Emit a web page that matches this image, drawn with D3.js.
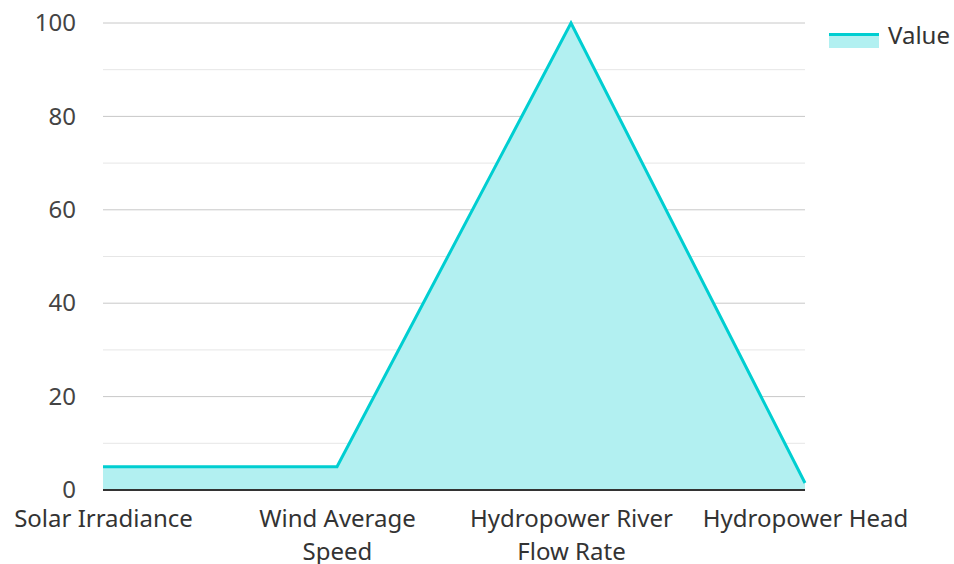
<!DOCTYPE html>
<html>
<head>
<meta charset="utf-8">
<script src="https://cdn.jsdelivr.net/npm/d3@7"></script>
<style>
  body { margin: 0; background: #fff; }
  text { font-family: "Noto Sans", sans-serif; fill: #333; }
</style>
</head>
<body>
<div id="root"></div>
<script>
var categories = ["Solar Irradiance", "Wind Average Speed", "Hydropower River Flow Rate", "Hydropower Head"];
var values = [5, 5, 100, 1.5];
var seriesName = "Value";
var majorTicks = [0, 20, 40, 60, 80, 100];
var minorTicks = [10, 30, 50, 70, 90];

var svgWidth = 954, svgHeight = 564;
var margin = {top: 23, right: 149, bottom: 74, left: 103};
var width = svgWidth - margin.left - margin.right,
    height = svgHeight - margin.top - margin.bottom;

var svg = d3.select("#root").append("svg")
    .attr("width", svgWidth)
    .attr("height", svgHeight);

var g = svg.append("g")
    .attr("transform", "translate(" + margin.left + "," + margin.top + ")");

var x = d3.scalePoint().domain(categories).range([0, width]);
var y = d3.scaleLinear().domain([0, 100]).range([height, 0]);

var lineColor = "#00ced1";
var fillColor = "#b2f0f1";

// grid
g.append("g").selectAll("line").data(minorTicks).enter().append("line")
    .attr("x1", 0).attr("x2", width)
    .attr("y1", function (d) { return y(d); })
    .attr("y2", function (d) { return y(d); })
    .attr("stroke", "#e6e6e6").attr("stroke-width", 1);

g.append("g").selectAll("line").data(majorTicks.slice(1)).enter().append("line")
    .attr("x1", 0).attr("x2", width)
    .attr("y1", function (d) { return y(d); })
    .attr("y2", function (d) { return y(d); })
    .attr("stroke", "#c8c8c8").attr("stroke-width", 1);

// area + line
var data = categories.map(function (c, i) { return {cat: c, value: values[i]}; });

g.append("path").datum(data)
    .attr("fill", fillColor)
    .attr("d", d3.area()
        .x(function (d) { return x(d.cat); })
        .y0(y(0))
        .y1(function (d) { return y(d.value); }));

g.append("path").datum(data)
    .attr("fill", "none")
    .attr("stroke", lineColor)
    .attr("stroke-width", 3)
    .attr("stroke-linejoin", "miter")
    .attr("d", d3.line()
        .x(function (d) { return x(d.cat); })
        .y(function (d) { return y(d.value); }));

// baseline
g.append("line")
    .attr("x1", 0).attr("x2", width)
    .attr("y1", y(0)).attr("y2", y(0))
    .attr("stroke", "#333").attr("stroke-width", 2);

// y axis labels
var yAxis = g.append("g")
    .call(d3.axisLeft(y).tickValues(majorTicks).tickSize(0).tickPadding(27));
yAxis.select(".domain").remove();
yAxis.selectAll("text")
    .attr("font-size", 24)
    .style("fill", "#444");

// x axis labels
var xAxis = g.append("g")
    .attr("transform", "translate(0," + height + ")")
    .call(d3.axisBottom(x).tickSize(0).tickPadding(0));
xAxis.select(".domain").remove();
xAxis.selectAll("text")
    .attr("font-size", 24)
    .call(wrap, 220);

function wrap(texts, maxW) {
    texts.each(function () {
        var text = d3.select(this);
        var words = text.text().split(/\s+/);
        text.text(null);
        var lines = [], line = [];
        var tmp = text.append("tspan");
        words.forEach(function (w) {
            line.push(w);
            tmp.text(line.join(" "));
            if (tmp.node().getComputedTextLength() > maxW && line.length > 1) {
                line.pop();
                lines.push(line.join(" "));
                line = [w];
            }
        });
        lines.push(line.join(" "));
        tmp.remove();
        text.attr("y", 0).attr("dy", null);
        lines.forEach(function (l, i) {
            text.append("tspan")
                .attr("x", 0)
                .attr("y", 37 + i * 33)
                .text(l);
        });
    });
}

// legend
var legend = svg.append("g").attr("transform", "translate(829,33)");
legend.append("rect")
    .attr("x", 0).attr("y", 0)
    .attr("width", 50).attr("height", 15)
    .attr("fill", fillColor);
legend.append("line")
    .attr("x1", 0).attr("x2", 50)
    .attr("y1", 1.5).attr("y2", 1.5)
    .attr("stroke", lineColor).attr("stroke-width", 3);
legend.append("text")
    .attr("x", 59).attr("y", 11)
    .attr("font-size", 24)
    .text(seriesName);
</script>
</body>
</html>
